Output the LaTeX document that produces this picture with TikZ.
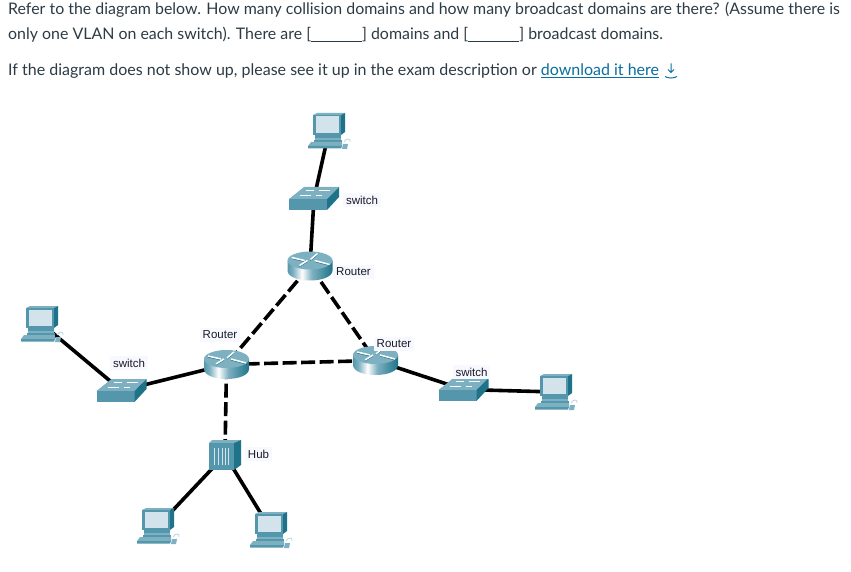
\documentclass[tikz,border=0pt]{standalone}
\usepackage{fontspec}
\setmainfont{Lato}
\newfontfamily\labelfont{Liberation Sans}
\definecolor{txt}{HTML}{2D3B45}
\definecolor{linkc}{HTML}{0A6F9E}
\definecolor{tealmain}{HTML}{5497AC}
\definecolor{tealdark}{HTML}{1F7389}
\definecolor{teallight}{HTML}{7DB0C0}
\definecolor{screenc}{HTML}{D3E3EB}
\definecolor{labelbg}{HTML}{F8F9FE}
\definecolor{labeltxt}{HTML}{1A1A2A}
\pgfdeclarehorizontalshading{routerbody}{100bp}{color(0bp)=(tealmain); color(25bp)=(tealmain); color(31bp)=(teallight); color(41bp)=(white); color(52bp)=(teallight); color(75bp)=(tealdark); color(100bp)=(tealdark)}
\newcommand{\blankline}{\rule[-2.2pt]{51pt}{1pt}}
\tikzset{
  qtext/.style={anchor=base west,inner sep=0pt,text=txt,font=\fontsize{15.92}{19}\selectfont},
  netlabel/.style={fill=labelbg,inner xsep=3pt,inner ysep=3pt,text=labeltxt,font=\labelfont\fontsize{11.5}{13}\selectfont},
  anchorbox/.style={inner sep=0pt,minimum size=1pt},
  solidlink/.style={draw=black,line width=3.6pt},
  dashlink/.style={draw=black,line width=3.6pt,dash pattern=on 14pt off 4.5pt},
  pcicon/.pic={
    \begin{scope}[shift={(-16,-18)}]
      \fill[teallight] (0,2) -- (4,0) -- (32,0) -- (28,2) -- cycle;
      \fill[tealdark] (28,2) -- (32,0) -- (32,19) -- (28,22) -- cycle;
      \fill[tealmain] (0,2) rectangle (28,22);
      \fill[screenc] (2.5,3.5) rectangle (25.5,20);
      \fill[tealmain] (2,22) rectangle (28,25);
      \fill[teallight] (2,25) rectangle (28,27);
      \fill[tealmain] (1,27) rectangle (29,29);
      \fill[teallight] (-2,29) -- (29,29) -- (29,33) -- (-5,33) -- cycle;
      \fill[tealmain] (-5,35.5) -- (-5,33) -- (29,33) -- (28,35.5) -- cycle;
      \fill[teallight] (30,31) -- (35,31) -- (34,36) -- (29,36) -- cycle;
      \draw[tealmain!40!white,line width=.8pt] (31,29) .. controls (33,25) and (38,25) .. (37,29);
    \end{scope}
  },
  switchicon/.pic={
    \begin{scope}[shift={(-25,-11.5)}]
      \fill[teallight] (0,12) -- (15,0) -- (50,0) -- (38,12) -- cycle;
      \fill[tealmain] (0,12) rectangle (38,23);
      \fill[tealdark] (38,12) -- (50,0) -- (50,10) -- (38,23) -- cycle;
      \draw[white,line width=.8pt] (17,3) -- (25,3) (30,3) -- (41,3) (11,8) -- (22,8) (27,8) -- (33,8);
    \end{scope}
  },
  routericon/.pic={
    \begin{scope}[shift={(-22.5,-14.5)}]
      \shade[shading=routerbody] (0,9) -- (0,19) .. controls (0,25) and (10,29) .. (22.5,29) .. controls (35,29) and (45,25) .. (45,19) -- (45,9) -- cycle;
      \fill[teallight] (22.5,9) ellipse [x radius=22.5pt,y radius=9pt];
      \draw[tealdark,line width=.8pt] (4,7) -- (17,10) (30,3) -- (23,9) (12,15) -- (20,10) (27,10) -- (42,14);
      \draw[white,line width=1.5pt] (4,6) -- (17,9) (30,2) -- (23,8) (12,14) -- (20,9) (27,9) -- (42,13);
    \end{scope}
  },
  hubicon/.pic={
    \begin{scope}[shift={(-16,-15)}]
      \fill[teallight] (0,3) -- (3,0) -- (32,0) -- (25,3) -- cycle;
      \fill[tealmain] (0,3) rectangle (25,30);
      \fill[tealdark] (25,3) -- (32,0) -- (32,25) -- (25,30) -- cycle;
      \draw[white!75!tealmain,line width=.8pt] (5,8) -- (5,25) (9,8) -- (9,25) (13,8) -- (13,25) (16,8) -- (16,25) (19,8) -- (19,25);
    \end{scope}
  }
}
\begin{document}
\begin{tikzpicture}[x=1pt,y=-1pt]
\path[use as bounding box,fill=white] (0,0) rectangle (851,572);
% question text
\node[qtext] (line1) at (8,14.5) {Refer to the diagram below. How many collision domains and how many broadcast domains are there? (Assume there is};
\node[qtext] (line2) at (8,39.5) {only one VLAN on each switch). There are [\blankline] domains and [\blankline] broadcast domains.};
\node[qtext,font=\fontsize{16}{19}\selectfont] (line3) at (8,76) {If the diagram does not show up, please see it up in the exam description or \textcolor{linkc}{\underline{download it here}}};
\draw[linkc,line width=1pt] (671,63.5) -- (671,72.5) (668,69.5) -- (671,72.5) -- (674,69.5) (665,76.5) .. controls (668,78.5) and (674,78.5) .. (677,76.5);
% device anchors
\node[anchorbox] (pctop) at (329,131) {};
\node[anchorbox] (swtop) at (314,198.5) {};
\node[anchorbox] (rtop) at (310,266) {};
\node[anchorbox] (rleft) at (226.5,364.5) {};
\node[anchorbox] (rright) at (375.5,360.5) {};
\node[anchorbox] (pcleft) at (42,324) {};
\node[anchorbox] (swleft) at (121.5,390.5) {};
\node[anchorbox] (swright) at (463.5,389.5) {};
\node[anchorbox] (pcright) at (556,392) {};
\node[anchorbox] (hub) at (225,455) {};
\node[anchorbox] (pcbl) at (158,526) {};
\node[anchorbox] (pcbr) at (271,530) {};
% connectors
\draw[solidlink] (pctop) -- (swtop);
\draw[solidlink] (swtop) -- (rtop);
\draw[dashlink] (rtop) -- (rleft);
\draw[dashlink] (rtop) -- (rright);
\draw[dashlink] (rleft) -- (rright);
\draw[dashlink] (rleft) -- (hub);
\draw[solidlink] (pcleft) -- (swleft);
\draw[solidlink] (swleft) -- (rleft);
\draw[solidlink] (rright) -- (swright);
\draw[solidlink] (swright) -- (pcright);
\draw[solidlink] (hub) -- (pcbl);
\draw[solidlink] (hub) -- (pcbr);
% icons
\pic at (pctop) {pcicon};
\pic at (pcleft) {pcicon};
\pic at (pcright) {pcicon};
\pic at (pcbl) {pcicon};
\pic at (pcbr) {pcicon};
\pic at (swtop) {switchicon};
\pic at (swleft) {switchicon};
\pic at (swright) {switchicon};
\pic at (rtop) {routericon};
\pic at (rleft) {routericon};
\pic at (rright) {routericon};
\pic at (hub) {hubicon};
% labels
\node[netlabel] (lswtop) at (362,200) {switch};
\node[netlabel] (lrtop) at (353.5,271.7) {Router};
\node[netlabel] (lrleft) at (220,334.7) {Router};
\node[netlabel] (lrright) at (394,343.7) {Router};
\node[netlabel] (lswleft) at (129,363) {switch};
\node[netlabel] (lswright) at (471.5,372) {switch};
\node[netlabel] (lhub) at (258.5,454) {Hub};
\end{tikzpicture}
\end{document}
